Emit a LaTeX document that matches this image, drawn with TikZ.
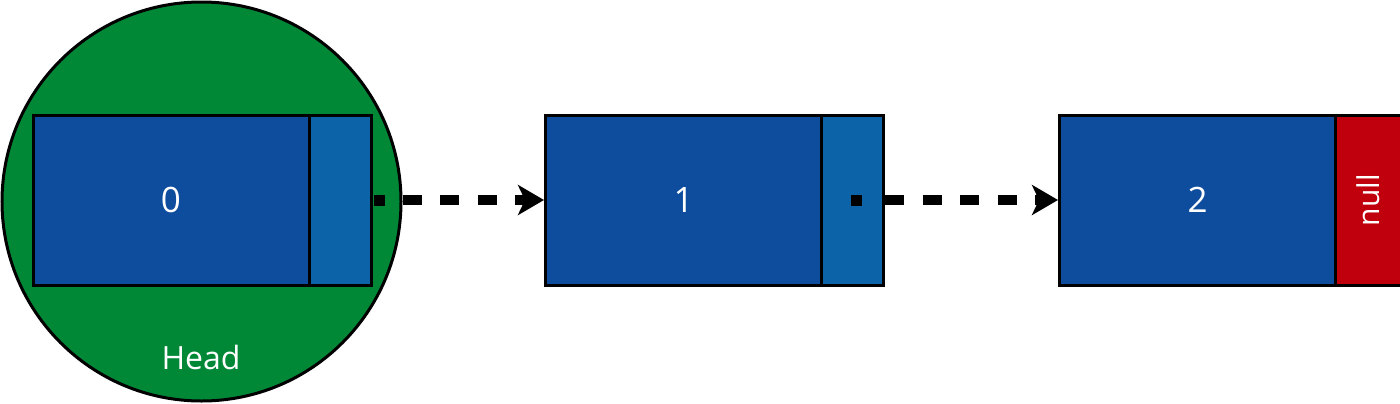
\documentclass[tikz,border=0pt]{standalone}
\usepackage{fontspec}
\setmainfont{Open Sans}
\usetikzlibrary{positioning,arrows.meta}
\definecolor{headgreen}{RGB}{0,136,55}
\definecolor{cellblue}{RGB}{14,76,158}
\definecolor{ptrblue}{RGB}{12,99,168}
\definecolor{nullred}{RGB}{192,0,12}

\begin{document}
\begin{tikzpicture}[x=0.5pt,y=0.5pt,line width=1.5pt,
	cell/.style={rectangle,draw,inner sep=0pt,minimum height=85pt,text=white,font=\fontsize{17.5}{20}\selectfont},
	data/.style={cell,fill=cellblue,minimum width=138pt},
	ptr/.style={cell,fill=ptrblue,minimum width=31pt},
	nullcell/.style={cell,fill=nullred,minimum width=33pt},
	ptrdot/.style={fill=black,inner sep=0pt,minimum size=5.5pt},
	link/.style={-{Stealth[length=13pt,width=15pt,inset=3.5pt]},line width=5pt,dash pattern=on 9.5pt off 9.25pt}]
	\useasboundingbox (0,0) rectangle (1400,403);

	\node [circle,draw,fill=headgreen,inner sep=0pt,minimum size=199.5pt] at (201.5,201.5) (head) {};
	\node [text=white,font=\fontsize{16}{18}\selectfont] at (201,46) (headlabel) {Head};

	\node [data] at (171,203) (d0) {0};
	\node [ptr,right=-1.5pt of d0] (p0) {};
	\node [data] at (683.5,203) (d1) {1};
	\node [ptr,right=-1.5pt of d1] (p1) {};
	\node [data] at (1197.5,203) (d2) {2};
	\node [nullcell,right=-1.5pt of d2] (n2) {};
	\node [rotate=90,text=white,font=\fontsize{15}{17}\selectfont] at (n2) (nulltext) {null};

	\node [ptrdot,anchor=west] at (p0.east) (s0) {};
	\node [ptrdot] at ([xshift=2pt]p1.center) (s1) {};

	\draw[link] (p0.east -| head.east) -- (d1.west);
	\draw[link] (p1.east) -- (d2.west);
\end{tikzpicture}
\end{document}
